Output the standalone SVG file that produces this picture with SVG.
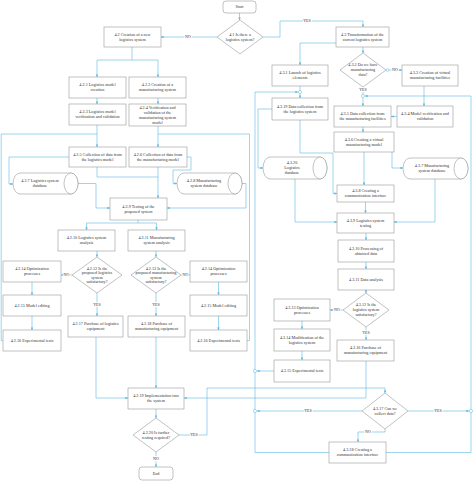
<svg xmlns="http://www.w3.org/2000/svg" width="474" height="481" viewBox="0 0 474 481">
<style>
.b{fill:#fff;stroke:#8f8f8f;stroke-width:0.55}
.t{font-family:"Liberation Serif",serif;font-size:4.2px;fill:#333;text-anchor:middle}
.c{fill:none;stroke:#5ab8e0;stroke-width:0.6}
.l{font-family:"Liberation Serif",serif;font-size:4px;fill:#333;text-anchor:middle;stroke:#fff;stroke-width:2;paint-order:stroke}
.j{fill:#fff;stroke:#5ab8e0;stroke-width:0.5}
</style>
<defs>
<marker id="a" viewBox="0 0 6 6" refX="6" refY="3" markerWidth="2.6" markerHeight="2.6" markerUnits="userSpaceOnUse" orient="auto"><path d="M0,0 L6,3 L0,6 z" fill="#5ab8e0"/></marker>
</defs>
<rect width="474" height="481" fill="#fff"/>
<g id="connectors">
<path class="c" d="M239.5,13 V20" marker-end="url(#a)"/>
<path class="c" d="M217,37 H161" marker-end="url(#a)"/>
<path class="c" d="M263,37 H280 V21 H363 V27" marker-end="url(#a)"/>
<path class="c" d="M132,47 V60 M97,60 H158"/>
<path class="c" d="M97,60 V77" marker-end="url(#a)"/>
<path class="c" d="M158,60 V77" marker-end="url(#a)"/>
<path class="c" d="M97,98 V104" marker-end="url(#a)"/>
<path class="c" d="M158,98 V104" marker-end="url(#a)"/>
<path class="c" d="M97,125 V147" marker-end="url(#a)"/>
<path class="c" d="M158,126 V147" marker-end="url(#a)"/>
<path class="c" d="M3,340.5 H1.2 V134 H97"/>
<path class="c" d="M247,340.5 H249.5 V134 H158"/>
<path class="c" d="M69,157 H9 V184 H13" marker-end="url(#a)"/>
<path class="c" d="M78,183.5 H96 V208 H110" marker-end="url(#a)"/>
<path class="c" d="M97,167 V177 H158"/>
<path class="c" d="M158,167 V198" marker-end="url(#a)"/>
<path class="c" d="M187,157 H191 V170 H173 V183.5 H177" marker-end="url(#a)"/>
<path class="c" d="M242,183.5 H246 V208 H167" marker-end="url(#a)"/>
<path class="c" d="M138,220 V223 M86.5,223 H156.5"/>
<path class="c" d="M86.5,223 V230" marker-end="url(#a)"/>
<path class="c" d="M156.5,223 V230" marker-end="url(#a)"/>
<path class="c" d="M97,251 V257" marker-end="url(#a)"/>
<path class="c" d="M156,251 V257" marker-end="url(#a)"/>
<path class="c" d="M72,275 H61" marker-end="url(#a)"/>
<path class="c" d="M181,275 H190" marker-end="url(#a)"/>
<path class="c" d="M97,293 V316" marker-end="url(#a)"/>
<path class="c" d="M156,293 V316" marker-end="url(#a)"/>
<path class="c" d="M32,282 V295" marker-end="url(#a)"/>
<path class="c" d="M32,316 V330" marker-end="url(#a)"/>
<path class="c" d="M218.5,282 V295" marker-end="url(#a)"/>
<path class="c" d="M218.5,316 V330" marker-end="url(#a)"/>
<path class="c" d="M96,337 V398 H128" marker-end="url(#a)"/>
<path class="c" d="M156,337 V388" marker-end="url(#a)"/>
<path class="c" d="M156,409 V418" marker-end="url(#a)"/>
<path class="c" d="M179,435 H207 V388 H385 V393" marker-end="url(#a)"/>
<path class="c" d="M156,452 V467" marker-end="url(#a)"/>
<path class="c" d="M363,47 V53" marker-end="url(#a)"/>
<path class="c" d="M336,43 H300 V65" marker-end="url(#a)"/>
<path class="c" d="M386,70 H402" marker-end="url(#a)"/>
<path class="c" d="M363,87 V106" marker-end="url(#a)"/>
<path class="c" d="M424,86 V106" marker-end="url(#a)"/>
<path class="c" d="M471,452.5 V96 H365" marker-end="url(#a)"/>
<path class="c" d="M397,116.5 H391" marker-end="url(#a)"/>
<path class="c" d="M363,127 V132" marker-end="url(#a)"/>
<path class="c" d="M364,152 V185" marker-end="url(#a)"/>
<path class="c" d="M392,152 V168 H403" marker-end="url(#a)"/>
<path class="c" d="M435,179 V222 H394" marker-end="url(#a)"/>
<path class="c" d="M300,86 V98" marker-end="url(#a)"/>
<path class="c" d="M255,452.5 V92 H298" marker-end="url(#a)"/>
<path class="c" d="M272,109 H258 V168 H263" marker-end="url(#a)"/>
<path class="c" d="M300,120 V153 H333 V193.5 H337" marker-end="url(#a)"/>
<path class="c" d="M295,179 V222 H337" marker-end="url(#a)"/>
<path class="c" d="M365.5,202 V213" marker-end="url(#a)"/>
<path class="c" d="M366,233 V240" marker-end="url(#a)"/>
<path class="c" d="M366,262 V269" marker-end="url(#a)"/>
<path class="c" d="M366,290 V293" marker-end="url(#a)"/>
<path class="c" d="M343,310 H330" marker-end="url(#a)"/>
<path class="c" d="M302,321 V329" marker-end="url(#a)"/>
<path class="c" d="M302,351 V360" marker-end="url(#a)"/>
<path class="c" d="M274,371 H257" marker-end="url(#a)"/>
<path class="c" d="M366,327 V340" marker-end="url(#a)"/>
<path class="c" d="M366,361 V398 H184" marker-end="url(#a)"/>
<path class="c" d="M362,411 H257" marker-end="url(#a)"/>
<path class="c" d="M408,411 H469" marker-end="url(#a)"/>
<path class="c" d="M385,429 V432 H358 V442" marker-end="url(#a)"/>
<path class="c" d="M329,452.5 H255 M386,452.5 H471"/>
<circle class="j" cx="363" cy="96" r="1.6"/>
<circle class="j" cx="300" cy="92" r="1.6"/>
<circle class="j" cx="255" cy="371" r="1.6"/>
<circle class="j" cx="255" cy="411" r="1.6"/>
<circle class="j" cx="471" cy="411" r="1.6"/>
<circle class="j" cx="387.5" cy="70" r="1.4"/>
<text class="l" x="188" y="38.4">NO</text>
<text class="l" x="307" y="22.4">YES</text>
<text class="l" x="66.5" y="276.4">NO</text>
<text class="l" x="185.5" y="276.4">NO</text>
<text class="l" x="97" y="306.4">YES</text>
<text class="l" x="156" y="306.4">YES</text>
<text class="l" x="194" y="436.4">YES</text>
<text class="l" x="156" y="460.4">NO</text>
<text class="l" x="395" y="71.4">NO</text>
<text class="l" x="363" y="91.4">YES</text>
<text class="l" x="337" y="311.4">NO</text>
<text class="l" x="366" y="334.4">YES</text>
<text class="l" x="308" y="412.4">YES</text>
<text class="l" x="438" y="412.4">YES</text>
<text class="l" x="368" y="433.4">NO</text>
</g>
<g id="start"><rect class="b" x="223" y="1" width="33" height="12" rx="3"/><text class="t" x="239.5" y="8.4">Start</text></g>
<g id="n4_1"><polygon class="b" points="240,20 263,37 240,54 217,37"/><text class="t" x="240" y="35.9">4.1 Is there a</text><text class="t" x="240" y="40.9">logistics system?</text></g>
<g id="n4_2"><rect class="b" x="104" y="27" width="57" height="20"/><text class="t" x="132.5" y="35.9">4.2 Creation of a new</text><text class="t" x="132.5" y="40.9">logistics system</text></g>
<g id="n4_3"><rect class="b" x="336" y="27" width="53" height="20"/><text class="t" x="362.5" y="35.9">4.3 Transformation of the</text><text class="t" x="362.5" y="40.9">current logistics system</text></g>
<g id="n4_2_1"><rect class="b" x="69" y="77" width="57" height="21"/><text class="t" x="97.5" y="86.4">4.2.1 Logistics model</text><text class="t" x="97.5" y="91.4">creation</text></g>
<g id="n4_2_2"><rect class="b" x="129" y="77" width="57" height="21"/><text class="t" x="157.5" y="86.4">4.2.2 Creation of a</text><text class="t" x="157.5" y="91.4">manufacturing system</text></g>
<g id="n4_2_3"><rect class="b" x="69" y="104" width="57" height="21"/><text class="t" x="97.5" y="113.4">4.2.3 Logistics model</text><text class="t" x="97.5" y="118.4">verification and validation</text></g>
<g id="n4_2_4"><rect class="b" x="129" y="104" width="57" height="22"/><text class="t" x="157.5" y="109.4">4.2.4 Verification and</text><text class="t" x="157.5" y="114.2">validation of the</text><text class="t" x="157.5" y="119">manufacturing system</text><text class="t" x="157.5" y="123.8">model</text></g>
<g id="n4_2_5"><rect class="b" x="69" y="147" width="57" height="20"/><text class="t" x="97.5" y="155.9">4.2.5 Collection of data from</text><text class="t" x="97.5" y="160.9">the logistics model</text></g>
<g id="n4_2_6"><rect class="b" x="129" y="147" width="58" height="20"/><text class="t" x="158" y="155.9">4.2.6 Collection of data from</text><text class="t" x="158" y="160.9">the manufacturing model</text></g>
<g id="n4_2_7"><path class="b" d="M20,173 H71 A7,10.5 0 0 1 71,194 H20 A7,10.5 0 0 1 20,173 Z"/><ellipse class="b" cx="71" cy="183.5" rx="7" ry="10.5"/><text class="t" x="40" y="182.4">4.2.7 Logistics system</text><text class="t" x="40" y="187.4">database</text></g>
<g id="n4_2_8"><path class="b" d="M184,173 H235 A7,10.5 0 0 1 235,194 H184 A7,10.5 0 0 1 184,173 Z"/><ellipse class="b" cx="235" cy="183.5" rx="7" ry="10.5"/><text class="t" x="204" y="182.4">4.2.8 Manufacturing</text><text class="t" x="204" y="187.4">system database</text></g>
<g id="n4_2_9"><rect class="b" x="110" y="198" width="57" height="22"/><text class="t" x="138.5" y="207.9">4.2.9 Testing of the</text><text class="t" x="138.5" y="212.9">proposed system</text></g>
<g id="n4_2_10"><rect class="b" x="58" y="230" width="57" height="21"/><text class="t" x="86.5" y="239.4">4.2.10 Logistics system</text><text class="t" x="86.5" y="244.4">analysis</text></g>
<g id="n4_2_11"><rect class="b" x="128" y="230" width="57" height="21"/><text class="t" x="156.5" y="239.4">4.2.11 Manufacturing</text><text class="t" x="156.5" y="244.4">system analysis</text></g>
<g id="n4_2_12"><polygon class="b" points="97,257 122,275 97,293 72,275"/><text class="t" x="97" y="269.8">4.2.12 Is the</text><text class="t" x="97" y="274.2">proposed logistics</text><text class="t" x="97" y="278.6">system</text><text class="t" x="97" y="283">satisfactory?</text></g>
<g id="n4_2_13"><polygon class="b" points="156,257 181,275 156,293 131,275"/><text class="t" x="156" y="269.8">4.2.13 Is the</text><text class="t" x="156" y="274.2">proposed manufacturing</text><text class="t" x="156" y="278.6">system</text><text class="t" x="156" y="283">satisfactory?</text></g>
<g id="n4_2_14a"><rect class="b" x="3" y="261" width="58" height="21"/><text class="t" x="32" y="270.4">4.2.14 Optimization</text><text class="t" x="32" y="275.4">processes</text></g>
<g id="n4_2_15a"><rect class="b" x="3" y="295" width="58" height="21"/><text class="t" x="32" y="306.9">4.2.15 Model editing</text></g>
<g id="n4_2_16a"><rect class="b" x="3" y="330" width="58" height="21"/><text class="t" x="32" y="341.9">4.2.16 Experimental tests</text></g>
<g id="n4_2_14b"><rect class="b" x="190" y="261" width="57" height="21"/><text class="t" x="218.5" y="270.4">4.2.14 Optimization</text><text class="t" x="218.5" y="275.4">processes</text></g>
<g id="n4_2_15b"><rect class="b" x="190" y="295" width="57" height="21"/><text class="t" x="218.5" y="306.9">4.2.15 Model editing</text></g>
<g id="n4_2_16b"><rect class="b" x="190" y="330" width="57" height="21"/><text class="t" x="218.5" y="341.9">4.2.16 Experimental tests</text></g>
<g id="n4_2_17"><rect class="b" x="68" y="316" width="55" height="21"/><text class="t" x="95.5" y="325.4">4.2.17 Purchase of logistics</text><text class="t" x="95.5" y="330.4">equipment</text></g>
<g id="n4_2_18"><rect class="b" x="128" y="316" width="57" height="21"/><text class="t" x="156.5" y="325.4">4.2.18 Purchase of</text><text class="t" x="156.5" y="330.4">manufacturing equipment</text></g>
<g id="n4_2_19"><rect class="b" x="128" y="388" width="56" height="21"/><text class="t" x="156" y="397.4">4.2.19 Implementation into</text><text class="t" x="156" y="402.4">the system</text></g>
<g id="n4_2_20"><polygon class="b" points="156,418 179,435 156,452 133,435"/><text class="t" x="156" y="433.9">4.2.20 Is further</text><text class="t" x="156" y="438.9">testing required?</text></g>
<g id="end"><rect class="b" x="139" y="467" width="34" height="13" rx="3"/><text class="t" x="156" y="474.9">End</text></g>
<g id="n4_3_1"><rect class="b" x="272" y="65" width="56" height="21"/><text class="t" x="300" y="74.4">4.3.1 Launch of logistics</text><text class="t" x="300" y="79.4">elements</text></g>
<g id="n4_3_2"><polygon class="b" points="363,53 386,70 363,87 340,70"/><text class="t" x="363" y="66.4">4.3.2 Do we have</text><text class="t" x="363" y="71.4">manufacturing</text><text class="t" x="363" y="76.4">data?</text></g>
<g id="n4_3_3"><rect class="b" x="402" y="65" width="56" height="21"/><text class="t" x="430" y="74.4">4.3.3 Creation of virtual</text><text class="t" x="430" y="79.4">manufacturing facilities</text></g>
<g id="n4_3_4"><rect class="b" x="397" y="106" width="56" height="21"/><text class="t" x="425" y="115.4">4.3.4 Model verification and</text><text class="t" x="425" y="120.4">validation</text></g>
<g id="n4_3_5"><rect class="b" x="334" y="106" width="57" height="21"/><text class="t" x="362.5" y="115.4">4.3.5 Data collection from</text><text class="t" x="362.5" y="120.4">the manufacturing facilities</text></g>
<g id="n4_3_19"><rect class="b" x="272" y="98" width="56" height="22"/><text class="t" x="300" y="107.9">4.3.19 Data collection from</text><text class="t" x="300" y="112.9">the logistics system</text></g>
<g id="n4_3_6"><rect class="b" x="334" y="132" width="60" height="20"/><text class="t" x="364" y="140.9">4.3.6 Creating a virtual</text><text class="t" x="364" y="145.9">manufacturing model</text></g>
<g id="n4_3_20"><path class="b" d="M270,157 H320 A7,11 0 0 1 320,179 H270 A7,11 0 0 1 270,157 Z"/><ellipse class="b" cx="320" cy="168" rx="7" ry="11"/><text class="t" x="292" y="164.2">4.3.20</text><text class="t" x="292" y="169.2">Logistics</text><text class="t" x="292" y="174.2">database</text></g>
<g id="n4_3_7"><path class="b" d="M410,158 H461 A7,10.5 0 0 1 461,179 H410 A7,10.5 0 0 1 410,158 Z"/><ellipse class="b" cx="461" cy="168.5" rx="7" ry="10.5"/><text class="t" x="432" y="167.4">4.3.7 Manufacturing</text><text class="t" x="432" y="172.4">system database</text></g>
<g id="n4_3_8"><rect class="b" x="337" y="185" width="57" height="17"/><text class="t" x="365.5" y="192.4">4.3.8 Creating a</text><text class="t" x="365.5" y="197.4">communication interface</text></g>
<g id="n4_3_9"><rect class="b" x="337" y="213" width="57" height="20"/><text class="t" x="365.5" y="221.9">4.3.9 Logistics system</text><text class="t" x="365.5" y="226.9">testing</text></g>
<g id="n4_3_10"><rect class="b" x="338" y="240" width="56" height="22"/><text class="t" x="366" y="249.9">4.3.10 Processing of</text><text class="t" x="366" y="254.9">obtained data</text></g>
<g id="n4_3_11"><rect class="b" x="338" y="269" width="56" height="21"/><text class="t" x="366" y="280.9">4.3.11 Data analysis</text></g>
<g id="n4_3_12"><polygon class="b" points="366,293 389,310 366,327 343,310"/><text class="t" x="366" y="306.4">4.3.12 Is the</text><text class="t" x="366" y="311.4">logistics system</text><text class="t" x="366" y="316.4">satisfactory?</text></g>
<g id="n4_3_13"><rect class="b" x="274" y="299" width="56" height="22"/><text class="t" x="302" y="308.9">4.3.13 Optimization</text><text class="t" x="302" y="313.9">processes</text></g>
<g id="n4_3_14"><rect class="b" x="274" y="329" width="56" height="22"/><text class="t" x="302" y="338.9">4.3.14 Modification of the</text><text class="t" x="302" y="343.9">logistics system</text></g>
<g id="n4_3_15"><rect class="b" x="274" y="360" width="56" height="22"/><text class="t" x="302" y="372.4">4.3.15 Experimental tests</text></g>
<g id="n4_3_16"><rect class="b" x="337" y="340" width="57" height="21"/><text class="t" x="365.5" y="349.4">4.3.16 Purchase of</text><text class="t" x="365.5" y="354.4">manufacturing equipment</text></g>
<g id="n4_3_17"><polygon class="b" points="385,393 408,411 385,429 362,411"/><text class="t" x="385" y="409.9">4.3.17 Can we</text><text class="t" x="385" y="414.9">collect data?</text></g>
<g id="n4_3_18"><rect class="b" x="329" y="442" width="57" height="21"/><text class="t" x="357.5" y="451.4">4.3.18 Creating a</text><text class="t" x="357.5" y="456.4">communication interface</text></g>
</svg>
